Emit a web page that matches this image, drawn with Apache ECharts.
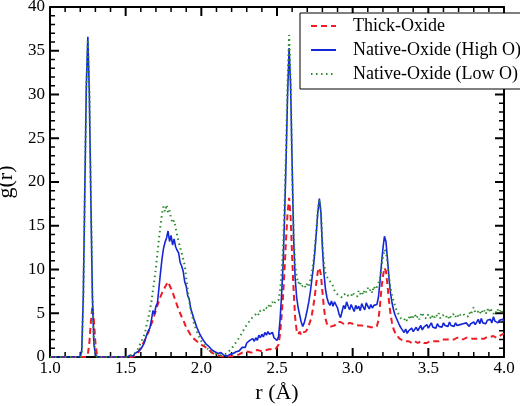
<!DOCTYPE html>
<html>
<head>
<meta charset="utf-8">
<script src="https://cdn.jsdelivr.net/npm/echarts@6/dist/echarts.min.js"></script>
<style>
  html, body { margin: 0; padding: 0; background: #fff; }
  #chart { width: 520px; height: 406px; }
</style>
</head>
<body>
<div id="chart"></div>
<script>
// r grid: 1.00 .. 4.00, step 0.01 (one row per 0.1)
var rStart = 1.0, rStep = 0.01;
var xMin = 1, xMax = 4, yMin = 0, yMax = 40;

var seriesNames = ['Thick-Oxide', 'Native-Oxide (High O)', 'Native-Oxide (Low O)'];

var xMajorTicks = [1.0, 1.5, 2.0, 2.5, 3.0, 3.5, 4.0];
var yMajorTicks = [0, 5, 10, 15, 20, 25, 30, 35, 40];

var gThick = [
  0,0,0,0,0,0,0,0,0,0,
  0,0,0,0,0,0,0,0,0,0,
  0,0,0,0,0,0.3,1.6,4.0,5.8,4.2,
  1.6,0.3,0,0,0,0,0,0,0,0,
  0,0,0,0,0,0,0,0,0,0,
  0,0,0,0,0,0,0.1,0.2,0.4,0.7,
  1.1,1.4,1.7,2.1,2.5,2.8,3.3,3.8,4.2,4.8,
  5.3,5.9,6.4,6.9,7.3,7.6,8.0,8.3,8.6,8.2,
  7.8,7.4,6.9,6.4,5.9,5.4,5.0,4.6,4.3,3.8,
  3.4,3.1,2.8,2.5,2.3,2.1,1.9,1.8,1.6,1.5,
  1.4,1.3,1.2,1.1,1.0,0.8,0.7,0.5,0.4,0.3,
  0.2,0.2,0.1,0.1,0.1,0,0.1,0,0.1,0.1,
  0.1,0.1,0.2,0.2,0.3,0.3,0.4,0.5,0.5,0.6,
  0.5,0.6,0.7,0.5,0.6,0.7,0.6,0.8,0.6,0.7,
  0.8,0.7,0.9,0.8,0.7,0.9,0.8,0.9,1.0,0.9,
  1.0,1.4,2.6,4.6,7.0,10.0,13.5,16.5,18.2,16.0,
  11.5,7.5,4.5,3.0,2.6,2.9,2.5,2.8,2.6,2.9,
  3.2,3.6,4.1,4.8,5.8,7.0,8.5,9.8,10.2,9.4,
  7.5,5.6,4.4,3.8,3.5,3.4,3.5,3.3,3.6,3.8,
  4.0,4.1,4.0,3.9,3.8,3.9,3.7,3.8,3.9,3.7,
  3.8,3.6,3.7,3.5,3.6,3.5,3.6,3.4,3.5,3.4,
  3.5,3.3,3.4,3.3,3.4,3.3,3.5,4.2,5.8,7.8,
  9.2,10.2,9.8,8.2,6.4,4.9,3.9,3.2,2.8,2.5,
  2.3,2.1,2.0,1.9,1.8,1.8,1.7,1.8,1.7,1.6,
  1.7,1.8,1.7,1.6,1.7,1.8,1.7,1.6,1.7,1.6,
  1.7,1.8,1.7,1.8,1.9,1.8,1.9,1.8,1.9,2.0,
  1.9,2.0,1.9,2.0,2.1,2.0,2.1,2.0,2.1,2.2,
  2.1,2.2,2.1,2.0,2.1,2.2,2.1,2.2,2.3,2.1,
  2.2,2.1,2.0,2.1,2.2,2.1,2.2,2.1,2.2,2.3,
  2.2,2.3,2.2,2.4,2.3,2.2,2.3,2.4,2.5,2.6,
  2.7
];

var gHighO = [
  0,0,0,0,0,0,0,0,0,0,
  0,0,0,0,0,0,0,0,0,0,
  0,0.8,7,19,31,36.6,30,18,7,1.5,
  0.3,0,0,0,0,0,0,0,0,0,
  0,0,0,0,0,0,0,0,0,0,
  0,0,0,0.2,0.3,0.1,0.4,0.3,0.6,0.5,
  0.9,1.2,1.5,2.0,2.6,3.0,3.3,4.2,5.3,4.9,
  5.8,6.2,7.9,9.6,11.2,12.4,13.1,13.6,14.4,13.2,
  13.9,12.8,13.5,12.6,12.2,11.9,10.8,10.4,9.8,8.6,
  8.1,7.0,6.6,5.5,5.0,4.4,3.9,3.4,3.0,2.6,
  2.3,2.0,1.8,1.5,1.6,1.2,1.0,0.8,0.9,0.6,
  0.7,0.4,0.3,0.5,0.3,0.2,0.3,0.1,0.2,0.3,
  0.2,0.4,0.3,0.6,0.4,0.7,0.6,1.1,1.3,1.1,
  1.6,1.5,1.9,1.7,2.1,1.8,2.2,1.9,2.5,2.2,
  2.6,2.3,2.8,2.5,2.9,2.6,2.4,2.8,2.2,2.0,
  1.9,2.3,4.2,7.0,10.5,16.0,22.5,30.0,35.3,31.0,
  22.0,13.5,9.0,6.8,5.6,4.8,4.0,3.5,3.9,4.6,
  5.4,6.3,7.4,8.8,10.2,12.0,14.2,16.6,18.1,16.5,
  12.5,9.6,7.8,6.8,6.2,5.9,6.4,5.8,6.3,6.1,
  5.6,4.9,4.5,5.2,5.9,5.5,6.3,5.8,5.4,6.0,
  5.6,5.2,5.9,5.5,5.8,5.3,6.1,5.7,5.4,6.2,
  5.8,5.5,6.0,5.6,5.9,5.7,6.0,6.8,8.5,10.6,
  12.4,13.8,13.2,11.2,9.0,7.3,6.2,5.4,4.8,4.4,
  4.0,3.6,3.3,3.1,2.8,3.2,2.7,3.0,2.8,3.3,
  2.9,3.1,3.4,3.0,3.2,3.6,3.1,3.4,3.2,3.7,
  3.3,3.5,3.9,3.4,3.6,3.3,3.8,3.5,3.7,3.4,
  3.9,3.6,3.8,3.5,4.0,3.6,3.7,3.5,3.9,3.6,
  3.8,3.7,3.5,3.8,3.6,3.9,3.7,3.5,3.8,3.6,
  4.0,3.7,3.9,4.3,3.8,4.4,3.9,4.1,3.8,4.2,
  4.0,4.3,3.9,4.6,4.1,4.3,3.9,4.2,4.0,4.3,
  4.1
];

var gLowO = [
  0,0,0,0,0,0,0,0,0,0,
  0,0,0,0,0,0,0,0,0,0,
  0,0.6,6.5,18.5,30.5,36.3,30.5,18.5,7.5,1.8,
  0.4,0,0,0,0,0,0,0,0,0,
  0,0,0,0,0,0,0,0,0,0,
  0,0,0,0.1,0.2,0.4,0.6,0.5,0.9,1.3,
  1.6,2.0,2.4,3.0,3.8,4.5,5.4,6.3,7.6,8.8,
  10.2,11.9,13.5,15.0,16.4,17.2,16.6,17.4,16.5,16.8,
  15.8,15.3,15.6,14.8,13.9,13.2,12.5,11.9,11.2,10.5,
  9.0,7.6,6.4,5.5,4.6,3.9,3.4,2.9,2.5,2.1,
  1.8,1.5,1.3,1.1,0.9,0.8,0.6,0.5,0.4,0.4,
  0.3,0.3,0.2,0.2,0.2,0.3,0.3,0.4,0.6,0.8,
  1.0,1.2,1.4,1.7,1.9,2.2,2.5,2.8,3.1,3.4,
  3.6,3.9,4.1,4.4,4.3,4.7,4.9,5.1,4.8,5.3,
  5.5,5.2,5.7,5.9,5.5,6.1,5.8,6.3,6.0,6.4,
  6.2,6.5,7.5,9.5,12.5,17.5,24.0,31.5,36.8,31.5,
  21.5,14.0,10.5,9.2,8.4,8.7,8.0,7.8,8.3,7.9,
  8.4,8.1,8.8,9.6,10.8,12.5,14.6,16.8,18.0,16.8,
  13.2,10.8,9.6,9.2,8.8,9.0,8.5,8.1,7.6,7.3,
  7.5,7.0,7.2,6.8,7.1,6.9,7.3,7.0,7.2,6.9,
  7.4,7.1,7.3,6.9,7.6,7.2,7.5,7.1,7.7,7.4,
  7.9,7.5,7.8,7.3,8.1,7.7,8.0,8.4,9.0,10.2,
  11.4,12.3,12.0,10.8,9.2,7.9,7.0,6.4,5.9,5.3,
  5.0,4.7,4.4,4.6,4.2,4.5,4.1,4.4,4.8,4.3,
  4.6,4.9,4.4,4.7,4.3,4.8,5.1,4.5,4.7,4.4,
  4.9,4.6,4.3,4.8,4.5,4.9,4.6,5.0,4.4,4.7,
  4.5,4.9,4.6,4.3,4.8,4.5,4.7,5.0,4.6,4.9,
  4.5,4.8,4.6,5.0,4.7,4.9,4.6,5.1,4.8,5.3,
  5.7,5.0,4.8,5.2,4.9,5.4,5.0,5.3,4.9,5.5,
  5.1,5.6,5.2,4.9,5.3,5.0,5.4,5.1,5.5,5.0,
  5.2
];

var serif = 'Liberation Serif';

function pairs(g) {
  var out = [];
  for (var i = 0; i < g.length; i++) {
    out.push([+(rStart + i * rStep).toFixed(2), g[i]]);
  }
  return out;
}

// tick rows for the frame: [x, y, kind(0 = x tick, 1 = y tick), length]
var tickData = [];
for (var i = 0; i < xMajorTicks.length; i++) tickData.push([xMajorTicks[i], yMin, 0, 9]);
for (var i = 10; i <= 40; i++) { if (i % 5) tickData.push([i / 10, yMin, 0, 5]); }
for (var i = 0; i < yMajorTicks.length; i++) tickData.push([xMin, yMajorTicks[i], 1, 9]);
for (var i = 0; i <= 40; i++) { if (i % 5) tickData.push([xMin, i, 1, 5]); }

function renderTick(params, api) {
  var kind = api.value(2), len = api.value(3);
  var w = len > 6 ? 2 : 1.5;
  var st = { stroke: '#000', lineWidth: w };
  var a, b;
  if (kind === 0) {
    a = api.coord([api.value(0), yMin]);
    b = api.coord([api.value(0), yMax]);
    return { type: 'group', children: [
      { type: 'line', shape: { x1: a[0], y1: a[1], x2: a[0], y2: a[1] - len }, style: st },
      { type: 'line', shape: { x1: b[0], y1: b[1], x2: b[0], y2: b[1] + len }, style: st }
    ] };
  }
  a = api.coord([xMin, api.value(1)]);
  b = api.coord([xMax, api.value(1)]);
  return { type: 'group', children: [
    { type: 'line', shape: { x1: a[0], y1: a[1], x2: a[0] + len, y2: a[1] }, style: st },
    { type: 'line', shape: { x1: b[0], y1: b[1], x2: b[0] - len, y2: b[1] }, style: st }
  ] };
}

function axisCommon(showLabel) {
  return {
    axisLine: { show: true, onZero: false, lineStyle: { color: '#000', width: 2 } },
    axisTick: { show: false },
    minorTick: { show: false },
    splitLine: { show: false },
    minorSplitLine: { show: false },
    axisLabel: { show: showLabel, color: '#000', fontFamily: serif, fontSize: 17 }
  };
}

var xBottom = axisCommon(true);
xBottom.type = 'value'; xBottom.min = xMin; xBottom.max = xMax; xBottom.interval = 0.5;
xBottom.position = 'bottom';
xBottom.axisLabel.margin = 3;
xBottom.axisLabel.formatter = function (v) { return v.toFixed(1); };
xBottom.name = 'r (Å)';
xBottom.nameLocation = 'middle';
xBottom.nameGap = 22;
xBottom.nameTextStyle = { color: '#000', fontFamily: serif, fontSize: 22, verticalAlign: 'top' };

var xTop = axisCommon(false);
xTop.type = 'value'; xTop.min = xMin; xTop.max = xMax; xTop.interval = 0.5;
xTop.position = 'top';

var yLeft = axisCommon(true);
yLeft.type = 'value'; yLeft.min = yMin; yLeft.max = yMax; yLeft.interval = 5;
yLeft.position = 'left';
yLeft.axisLabel.margin = 5;
yLeft.name = 'g(r)';
yLeft.nameLocation = 'middle';
yLeft.nameGap = 20;
yLeft.nameRotate = 90;
yLeft.nameTextStyle = { color: '#000', fontFamily: serif, fontSize: 22 };

var yRight = axisCommon(false);
yRight.type = 'value'; yRight.min = yMin; yRight.max = yMax; yRight.interval = 5;
yRight.position = 'right';

var myChart = echarts.init(document.getElementById('chart'));

var option = {
  animation: false,
  backgroundColor: '#fff',
  grid: { left: 50, right: 16, top: 7, bottom: 49, containLabel: false, outerBoundsMode: 'none' },
  legend: {
    orient: 'vertical',
    left: 300,
    top: 13,
    itemWidth: 25,
    itemHeight: 10,
    itemGap: 6,
    padding: [4, 5, 6, 10],
    borderColor: '#000',
    borderWidth: 1,
    backgroundColor: '#fff',
    itemStyle: { opacity: 0 },
    textStyle: { color: '#000', fontFamily: serif, fontSize: 18, padding: [0, 0, 0, 12] },
    data: seriesNames
  },
  xAxis: [xBottom, xTop],
  yAxis: [yLeft, yRight],
  series: [
    {
      name: 'ticks', type: 'custom', xAxisIndex: 0, yAxisIndex: 0,
      silent: true, clip: false, z: 1,
      renderItem: renderTick,
      data: tickData
    },
    {
      name: seriesNames[0], type: 'line', xAxisIndex: 0, yAxisIndex: 0,
      showSymbol: false, symbol: 'none', z: 2,
      itemStyle: { color: '#ee1c25' },
      lineStyle: { color: '#ee1c25', width: 2, type: [6, 4] },
      data: pairs(gThick)
    },
    {
      name: seriesNames[1], type: 'line', xAxisIndex: 0, yAxisIndex: 0,
      showSymbol: false, symbol: 'none', z: 3,
      itemStyle: { color: '#1426d6' },
      lineStyle: { color: '#1426d6', width: 1.6, type: 'solid' },
      data: pairs(gHighO)
    },
    {
      name: seriesNames[2], type: 'line', xAxisIndex: 0, yAxisIndex: 0,
      showSymbol: false, symbol: 'none', z: 4,
      itemStyle: { color: '#2e8b2e' },
      lineStyle: { color: '#2e8b2e', width: 2, type: [1.5, 3.5] },
      data: pairs(gLowO)
    }
  ]
};

myChart.setOption(option);
</script>
</body>
</html>
